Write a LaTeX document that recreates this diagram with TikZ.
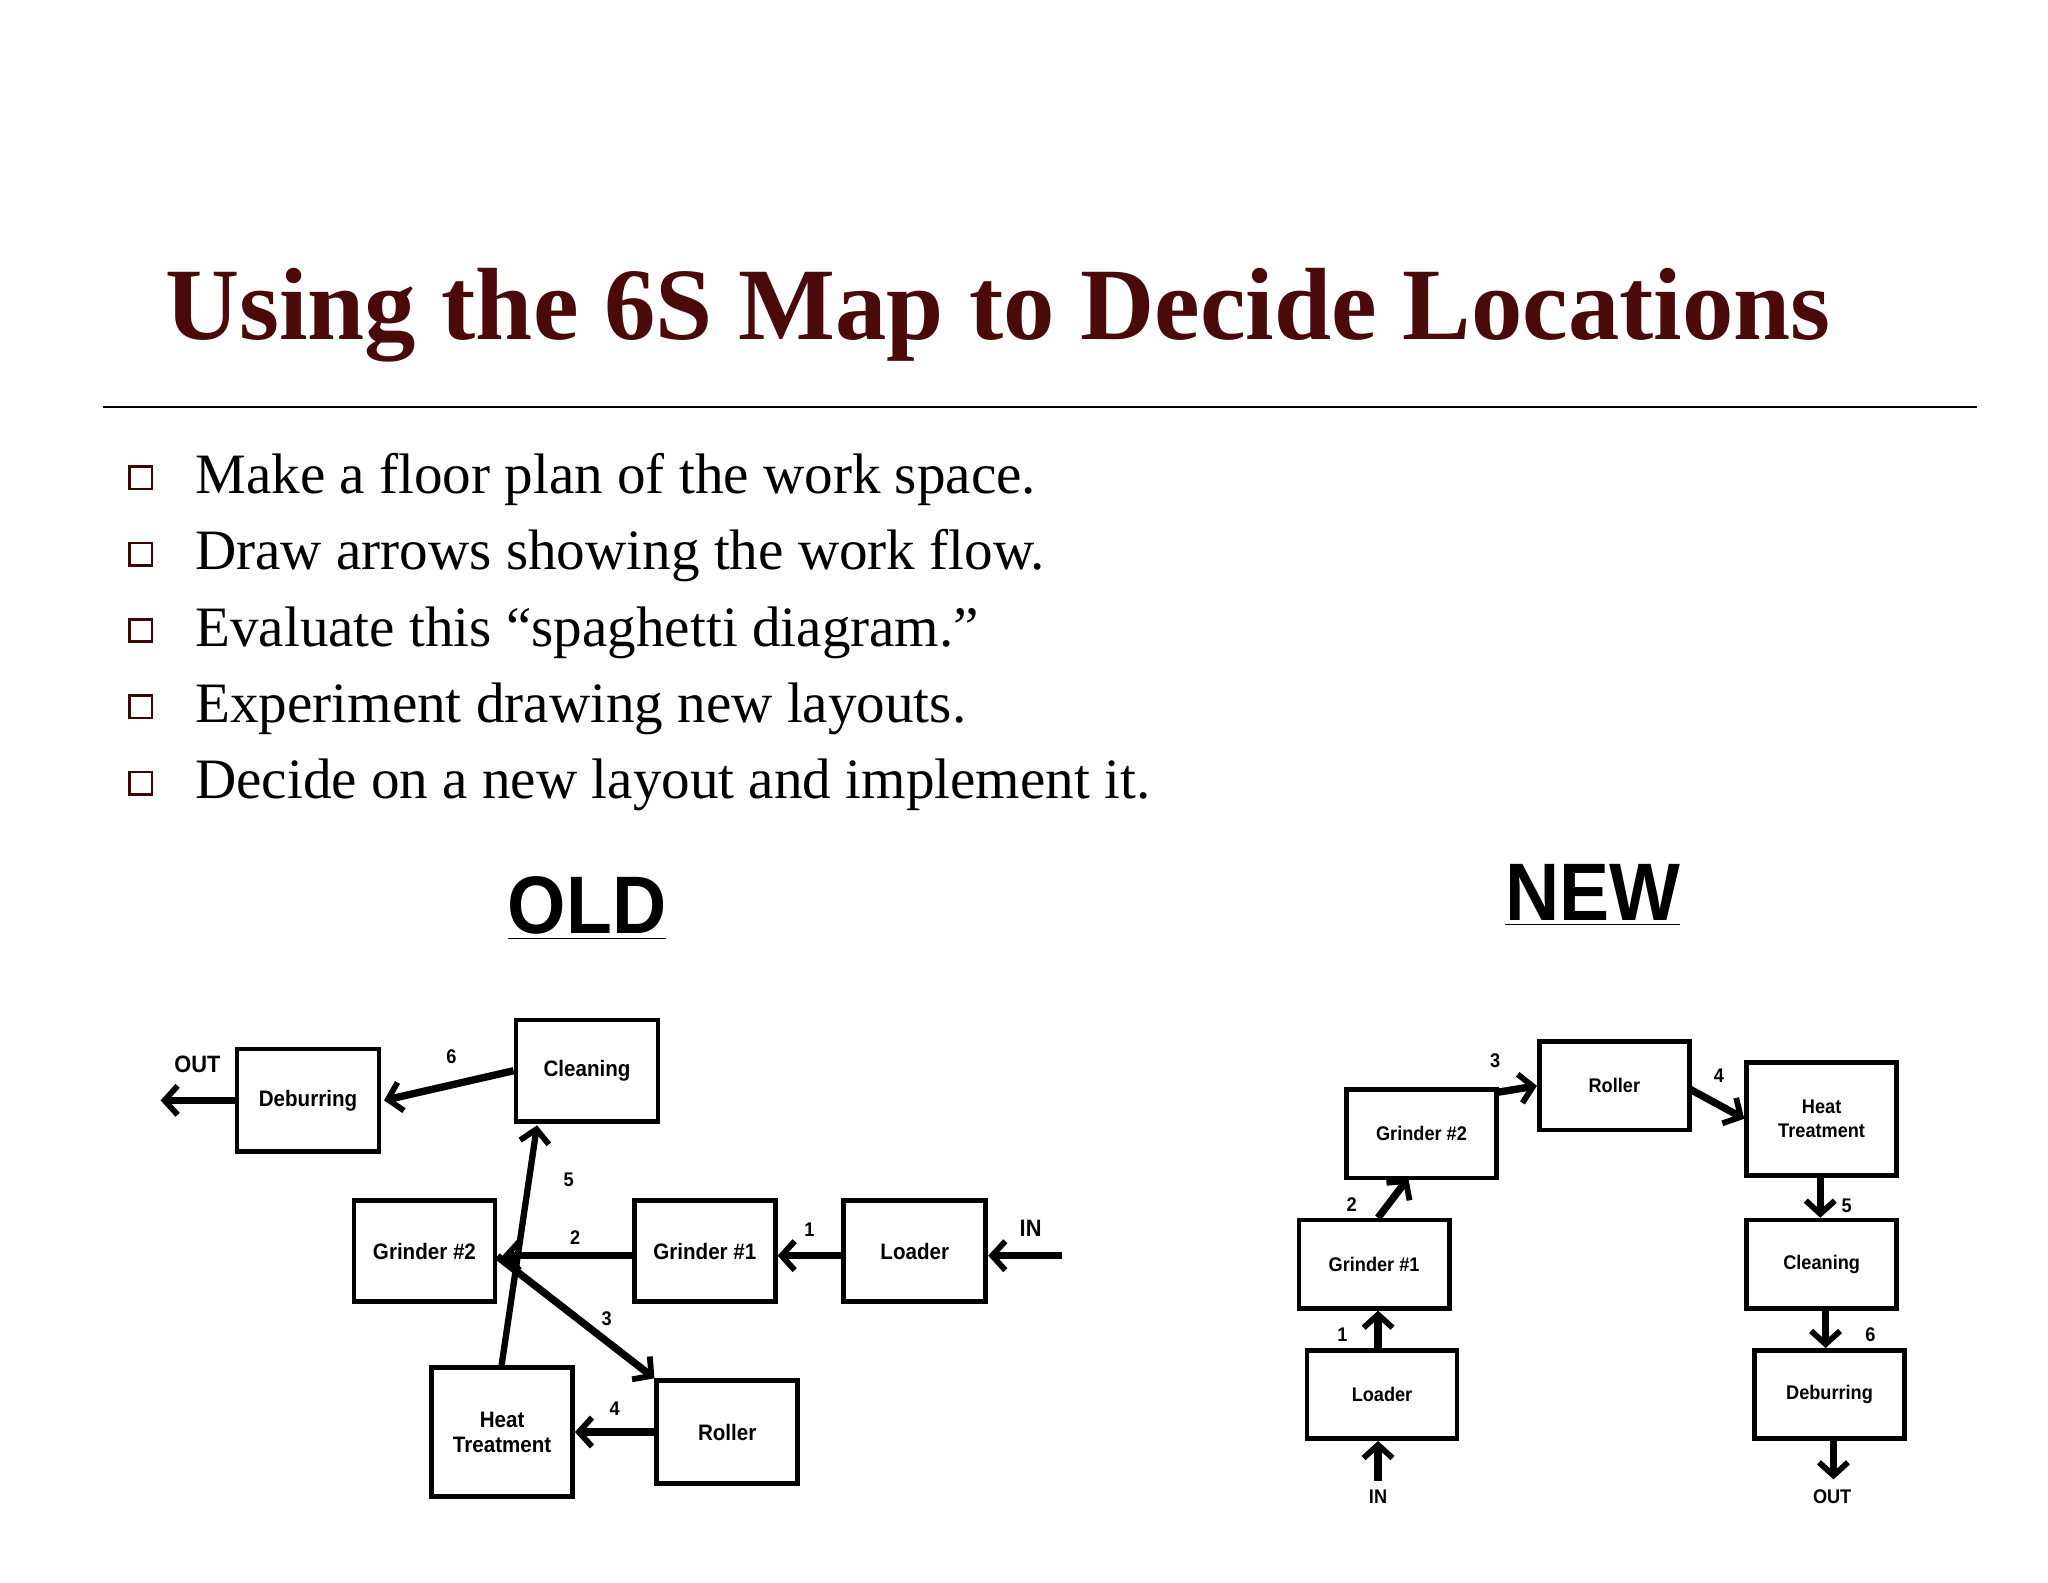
\documentclass[tikz,border=0pt]{standalone}
\usepackage{fontspec}
\setmainfont{Liberation Serif}
\newfontfamily\arialb{Liberation Sans}[FakeStretch=0.92]
\usetikzlibrary{arrows.meta}
\definecolor{maroon}{HTML}{4A0A0A}
\begin{document}
\begin{tikzpicture}[x=0.5pt,y=-0.5pt,
  bx/.style={draw,line width=1.8pt,inner sep=0pt,font=\arialb\bfseries\fontsize{8.5}{9.5}\selectfont,align=center},
  fl/.style={line width=2.8pt,-{Straight Barb[length=5pt,width=11pt,line width=2.2pt]}},
  lb/.style={font=\arialb\bfseries\fontsize{9}{10}\selectfont,inner sep=0pt},
  nb/.style={font=\arialb\bfseries\fontsize{7.5}{9}\selectfont,inner sep=0pt},
  bul/.style={draw=maroon!80!black,line width=1pt,minimum size=8.5pt,inner sep=0pt},
  bt/.style={anchor=base west,inner sep=0pt,font=\fontsize{21.7}{24}\selectfont}]
\useasboundingbox (0,0) rectangle (1556,1202);
\node[anchor=base west,inner sep=0pt,text=maroon,font=\bfseries\fontsize{39}{44}\selectfont] (title) at (125,258) {Using the 6S Map to Decide Locations};
\draw[line width=0.8pt] (78,309) coordinate (r1) -- (1502,309) coordinate (r2);
\foreach \y/\t [count=\i] in {375/Make a floor plan of the work space.,433/Draw arrows showing the work flow.,491/Evaluate this “spaghetti diagram.”,549/Experiment drawing new layouts.,607/Decide on a new layout and implement it.}{
  \node[bul] (b\i) at (107,\y-12) {};
  \node[bt] (t\i) at (148,\y) {\t};
}
\node[font=\arialb\bfseries\fontsize{31}{34}\selectfont,inner sep=0pt] (old) at (446,690) {\underline{OLD}};
\node[font=\arialb\bfseries\fontsize{31}{34}\selectfont,inner sep=0pt] (new) at (1210,680) {\underline{NEW}};
% OLD
\node[bx,minimum width=54pt,minimum height=39pt] (deb) at (234,836) {Deburring};
\node[bx,minimum width=54pt,minimum height=38.5pt] (cle) at (446,813.5) {Cleaning};
\node[bx,minimum width=53.5pt,minimum height=38.5pt] (g2) at (322.5,950.5) {Grinder \#2};
\node[bx,minimum width=53.5pt,minimum height=38.5pt] (g1) at (535.5,950.5) {Grinder \#1};
\node[bx,minimum width=54pt,minimum height=38.5pt] (loa) at (695,950.5) {Loader};
\node[bx,minimum width=53.5pt,minimum height=49pt] (ht) at (381.5,1088) {Heat\\Treatment};
\node[bx,minimum width=53.5pt,minimum height=39pt] (rol) at (552.5,1088) {Roller};
\coordinate (oout) at (122,836);
\coordinate (oin) at (807,954);
\node[lb] (outl) at (150,809) {OUT};
\node[lb] (inl) at (783,933) {IN};
\draw[fl] (deb.west) -- (oout);
\draw[fl] (oin) -- (loa.east|-oin);
\draw[fl] (loa.west|-oin) -- (g1.east|-oin);
\draw[fl] (g1.west|-oin) -- ([xshift=2pt]g2.east|-oin);
\draw[fl] ([yshift=-2pt]g2.east) -- (rol.north west);
\draw[fl] (rol.west|-ht.east) -- (ht.east);
\draw[line width=2.4pt,-{Straight Barb[length=5pt,width=11pt,line width=2.2pt]}] (381,1038) -- (408,855);
\draw[fl] (cle.west) -- ([xshift=1pt]deb.east);
\node[nb] (n6) at (343,803) {6};
\node[nb] (n5) at (432,896) {5};
\node[nb] (n2) at (437,940) {2};
\node[nb] (n1) at (615,934) {1};
\node[nb] (n3) at (461,1002) {3};
\node[nb] (n4) at (467,1070) {4};
% NEW
\tikzset{nbx/.style={bx,minimum width=57pt,minimum height=33.5pt,font=\arialb\bfseries\fontsize{7.5}{9}\selectfont}}
\node[nbx] (nrol) at (1226.5,825) {Roller};
\node[nbx,minimum height=43pt] (nht) at (1384,850) {Heat\\Treatment};
\node[nbx] (ng2) at (1080,861.5) {Grinder \#2};
\node[nbx] (ng1) at (1044,960.5) {Grinder \#1};
\node[nbx] (ncl) at (1384,960.5) {Cleaning};
\node[nbx] (nlo) at (1050,1059.5) {Loader};
\node[nbx] (nde) at (1390,1059.5) {Deburring};
\node[nb] (ninl) at (1047,1137) {IN};
\node[nb] (noutl) at (1392,1137) {OUT};
\coordinate (nin) at (1047,1125);
\coordinate (nout) at (1393,1124);
\draw[fl] (nin) -- (nlo.south-|nin);
\draw[fl] (nlo.north-|nin) -- (ng1.south-|nin);
\draw[fl] (ng1.north-|nin) -- (1070,895);
\draw[fl] (1137,830) -- (nrol.west);
\draw[fl] (1283,827) -- (nht.west);
\draw[fl] (nht.south-|1383,0) -- (ncl.north-|1383,0);
\draw[fl] (ncl.south-|1387,0) -- (nde.north-|1387,0);
\draw[fl] (nde.south-|nout) -- (nout);
\node[nb] (m1) at (1020,1014) {1};
\node[nb] (m2) at (1027,915) {2};
\node[nb] (m3) at (1136,806) {3};
\node[nb] (m4) at (1306,817) {4};
\node[nb] (m5) at (1403,916) {5};
\node[nb] (m6) at (1421,1014) {6};
\end{tikzpicture}
\end{document}
